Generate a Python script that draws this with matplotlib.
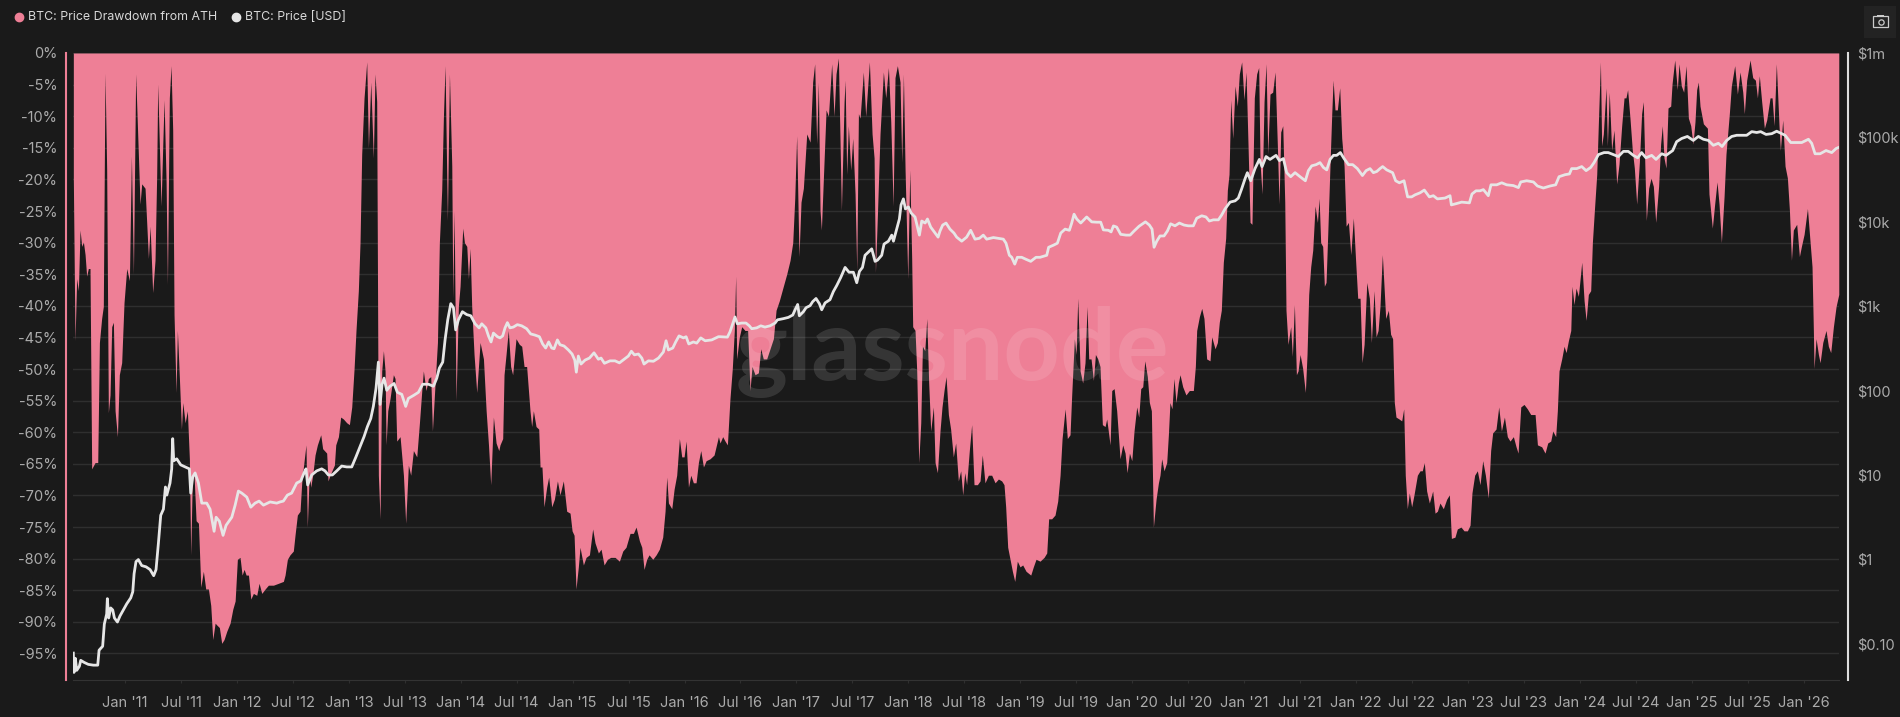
import matplotlib
matplotlib.use('Agg')
import numpy as np
import matplotlib.pyplot as plt
from matplotlib.lines import Line2D
from matplotlib.patches import FancyBboxPatch, Rectangle

# values, x is decimal year
dd_years = [
    2010.538, 2010.553, 2010.568, 2010.583, 2010.598, 2010.613, 2010.628, 2010.643, 2010.657, 2010.672, 2010.687, 2010.702,
    2010.732, 2010.756, 2010.771, 2010.791, 2010.806, 2010.821, 2010.836, 2010.851, 2010.866, 2010.881, 2010.896, 2010.911,
    2010.932, 2010.949, 2010.970, 2010.991, 2011.015, 2011.039, 2011.057, 2011.075, 2011.095, 2011.110, 2011.134, 2011.149,
    2011.179, 2011.209, 2011.224, 2011.247, 2011.268, 2011.283, 2011.292, 2011.307, 2011.322, 2011.337, 2011.349, 2011.367,
    2011.379, 2011.396, 2011.411, 2011.426, 2011.438, 2011.456, 2011.468, 2011.486, 2011.504, 2011.516, 2011.537, 2011.557,
    2011.575, 2011.587, 2011.602, 2011.617, 2011.635, 2011.656, 2011.677, 2011.700, 2011.721, 2011.745, 2011.766, 2011.784,
    2011.805, 2011.820, 2011.843, 2011.864, 2011.885, 2011.909, 2011.939, 2011.963, 2011.984, 2012.004, 2012.028, 2012.046,
    2012.064, 2012.082, 2012.103, 2012.124, 2012.147, 2012.177, 2012.198, 2012.222, 2012.252, 2012.281, 2012.326, 2012.371,
    2012.415, 2012.430, 2012.451, 2012.474, 2012.504, 2012.519, 2012.540, 2012.564, 2012.579, 2012.594, 2012.617, 2012.629,
    2012.647, 2012.659, 2012.677, 2012.698, 2012.719, 2012.749, 2012.766, 2012.802, 2012.814, 2012.832, 2012.871, 2012.883,
    2012.907, 2012.927, 2012.951, 2012.981, 2013.005, 2013.026, 2013.047, 2013.064, 2013.085, 2013.100, 2013.115, 2013.136,
    2013.160, 2013.175, 2013.196, 2013.219, 2013.234, 2013.249, 2013.264, 2013.279, 2013.294, 2013.309, 2013.324, 2013.333,
    2013.348, 2013.368, 2013.398, 2013.413, 2013.428, 2013.458, 2013.488, 2013.508, 2013.532, 2013.553, 2013.577, 2013.607,
    2013.631, 2013.652, 2013.666, 2013.690, 2013.711, 2013.732, 2013.747, 2013.771, 2013.792, 2013.809, 2013.830, 2013.845,
    2013.860, 2013.881, 2013.899, 2013.920, 2013.929, 2013.941, 2013.958, 2013.979, 2013.994, 2014.018, 2014.033, 2014.054,
    2014.069, 2014.084, 2014.098, 2014.119, 2014.143, 2014.173, 2014.203, 2014.227, 2014.248, 2014.268, 2014.292, 2014.316,
    2014.340, 2014.351, 2014.375, 2014.387, 2014.405, 2014.425, 2014.446, 2014.464, 2014.494, 2014.524, 2014.545, 2014.566,
    2014.589, 2014.619, 2014.634, 2014.649, 2014.673, 2014.697, 2014.709, 2014.726, 2014.744, 2014.768, 2014.786, 2014.813,
    2014.837, 2014.864, 2014.887, 2014.917, 2014.947, 2014.977, 2014.995, 2015.013, 2015.030, 2015.051, 2015.066, 2015.096,
    2015.120, 2015.150, 2015.179, 2015.200, 2015.230, 2015.254, 2015.281, 2015.311, 2015.340, 2015.379, 2015.418, 2015.448,
    2015.477, 2015.513, 2015.543, 2015.567, 2015.597, 2015.618, 2015.638, 2015.662, 2015.683, 2015.716, 2015.746, 2015.775,
    2015.805, 2015.826, 2015.841, 2015.856, 2015.886, 2015.907, 2015.930, 2015.954, 2015.975, 2015.996, 2016.014, 2016.035,
    2016.056, 2016.079, 2016.103, 2016.124, 2016.145, 2016.169, 2016.193, 2016.228, 2016.264, 2016.303, 2016.317, 2016.341,
    2016.362, 2016.383, 2016.406, 2016.427, 2016.445, 2016.457, 2016.466, 2016.490, 2016.511, 2016.540, 2016.564, 2016.585,
    2016.603, 2016.630, 2016.660, 2016.681, 2016.704, 2016.734, 2016.764, 2016.794, 2016.818, 2016.847, 2016.883, 2016.913,
    2016.943, 2016.967, 2016.985, 2017.002, 2017.023, 2017.041, 2017.062, 2017.092, 2017.122, 2017.145, 2017.163, 2017.181,
    2017.196, 2017.211, 2017.223, 2017.241, 2017.265, 2017.286, 2017.315, 2017.336, 2017.354, 2017.375, 2017.402, 2017.426,
    2017.435, 2017.449, 2017.464, 2017.485, 2017.503, 2017.524, 2017.539, 2017.554, 2017.569, 2017.598, 2017.619, 2017.652,
    2017.676, 2017.694, 2017.706, 2017.724, 2017.747, 2017.777, 2017.798, 2017.822, 2017.843, 2017.864, 2017.881, 2017.902,
    2017.926, 2017.941, 2017.956, 2017.971, 2017.995, 2018.013, 2018.030, 2018.039, 2018.060, 2018.075, 2018.093, 2018.111,
    2018.126, 2018.147, 2018.165, 2018.182, 2018.200, 2018.224, 2018.239, 2018.260, 2018.283, 2018.301, 2018.319, 2018.337,
    2018.358, 2018.378, 2018.402, 2018.423, 2018.447, 2018.468, 2018.486, 2018.504, 2018.521, 2018.545, 2018.566, 2018.587,
    2018.617, 2018.641, 2018.661, 2018.685, 2018.715, 2018.745, 2018.775, 2018.805, 2018.834, 2018.855, 2018.870, 2018.888,
    2018.909, 2018.930, 2018.951, 2018.974, 2018.998, 2019.022, 2019.052, 2019.094, 2019.117, 2019.141, 2019.177, 2019.213,
    2019.237, 2019.254, 2019.281, 2019.311, 2019.335, 2019.356, 2019.374, 2019.401, 2019.421, 2019.445, 2019.460, 2019.484,
    2019.499, 2019.514, 2019.535, 2019.558, 2019.579, 2019.597, 2019.612, 2019.633, 2019.654, 2019.672, 2019.693, 2019.713,
    2019.734, 2019.758, 2019.773, 2019.803, 2019.818, 2019.839, 2019.862, 2019.892, 2019.916, 2019.937, 2019.955, 2019.976,
    2019.997, 2020.017, 2020.041, 2020.059, 2020.077, 2020.095, 2020.113, 2020.136, 2020.154, 2020.172, 2020.190, 2020.214,
    2020.235, 2020.249, 2020.264, 2020.285, 2020.309, 2020.324, 2020.338, 2020.356, 2020.374, 2020.392, 2020.413, 2020.428,
    2020.452, 2020.481, 2020.511, 2020.547, 2020.565, 2020.577, 2020.601, 2020.622, 2020.642, 2020.666, 2020.696, 2020.711,
    2020.741, 2020.762, 2020.779, 2020.797, 2020.815, 2020.836, 2020.851, 2020.866, 2020.881, 2020.899, 2020.920, 2020.940,
    2020.958, 2020.979, 2021.000, 2021.018, 2021.036, 2021.054, 2021.071, 2021.092, 2021.113, 2021.131, 2021.143, 2021.161,
    2021.179, 2021.197, 2021.212, 2021.232, 2021.256, 2021.277, 2021.298, 2021.313, 2021.328, 2021.346, 2021.364, 2021.375,
    2021.393, 2021.417, 2021.432, 2021.450, 2021.468, 2021.483, 2021.501, 2021.524, 2021.548, 2021.563, 2021.578, 2021.596,
    2021.614, 2021.635, 2021.656, 2021.671, 2021.685, 2021.703, 2021.718, 2021.733, 2021.748, 2021.769, 2021.784, 2021.796,
    2021.813, 2021.834, 2021.855, 2021.873, 2021.894, 2021.912, 2021.933, 2021.954, 2021.977, 2021.998, 2022.016, 2022.037,
    2022.055, 2022.073, 2022.097, 2022.120, 2022.138, 2022.162, 2022.180, 2022.198, 2022.215, 2022.236, 2022.251, 2022.266,
    2022.290, 2022.310, 2022.328, 2022.343, 2022.358, 2022.385, 2022.409, 2022.427, 2022.441, 2022.459, 2022.477, 2022.498,
    2022.519, 2022.549, 2022.573, 2022.593, 2022.611, 2022.632, 2022.656, 2022.686, 2022.707, 2022.728, 2022.751, 2022.781,
    2022.811, 2022.835, 2022.853, 2022.885, 2022.906, 2022.939, 2022.966, 2022.996, 2023.020, 2023.037, 2023.061, 2023.085,
    2023.109, 2023.133, 2023.157, 2023.183, 2023.204, 2023.222, 2023.252, 2023.276, 2023.300, 2023.327, 2023.353, 2023.377,
    2023.407, 2023.431, 2023.449, 2023.473, 2023.502, 2023.532, 2023.562, 2023.601, 2023.622, 2023.660, 2023.690, 2023.714,
    2023.741, 2023.759, 2023.785, 2023.800, 2023.815, 2023.839, 2023.860, 2023.878, 2023.899, 2023.920, 2023.931, 2023.949,
    2023.967, 2023.988, 2024.018, 2024.039, 2024.057, 2024.077, 2024.098, 2024.113, 2024.131, 2024.152, 2024.167, 2024.185,
    2024.196, 2024.211, 2024.235, 2024.247, 2024.264, 2024.285, 2024.306, 2024.330, 2024.351, 2024.375, 2024.396, 2024.413,
    2024.428, 2024.449, 2024.470, 2024.488, 2024.509, 2024.533, 2024.553, 2024.568, 2024.583, 2024.595, 2024.616, 2024.637,
    2024.658, 2024.679, 2024.705, 2024.723, 2024.738, 2024.753, 2024.771, 2024.789, 2024.813, 2024.825, 2024.849, 2024.872,
    2024.887, 2024.908, 2024.929, 2024.950, 2024.971, 2024.992, 2025.012, 2025.030, 2025.045, 2025.060, 2025.075, 2025.105,
    2025.141, 2025.155, 2025.185, 2025.206, 2025.227, 2025.245, 2025.266, 2025.290, 2025.307, 2025.337, 2025.355, 2025.385,
    2025.409, 2025.433, 2025.457, 2025.471, 2025.492, 2025.522, 2025.546, 2025.570, 2025.588, 2025.605, 2025.626, 2025.650,
    2025.671, 2025.701, 2025.719, 2025.737, 2025.757, 2025.781, 2025.793, 2025.814, 2025.835, 2025.856, 2025.874, 2025.892,
    2025.909, 2025.939, 2025.963, 2025.981, 2026.005, 2026.035, 2026.059, 2026.076, 2026.088, 2026.094, 2026.112, 2026.133,
    2026.148, 2026.172, 2026.201, 2026.222, 2026.243, 2026.267, 2026.291, 2026.315,
]
dd_pct = [
    19.8, 45.5, 35.7, 37.6, 28.0, 30.6, 29.9, 31.9, 35.3, 34.1, 34.1, 65.8,
    64.8, 64.8, 45.8, 42.0, 40.1, 3.2, 18.5, 56.9, 54.1, 43.3, 42.6, 56.6,
    60.7, 50.9, 49.0, 39.5, 34.1, 36.0, 16.3, 35.0, 3.3, 11.2, 23.9, 20.7,
    21.4, 32.5, 27.4, 37.9, 32.8, 19.2, 4.9, 14.7, 24.2, 14.7, 7.4, 20.4,
    36.6, 7.1, 2.0, 12.2, 41.4, 53.7, 43.9, 51.5, 59.5, 55.3, 58.5, 56.6,
    64.2, 79.4, 66.8, 66.8, 74.0, 74.4, 84.5, 82.0, 84.8, 84.8, 87.4, 92.8,
    90.2, 90.5, 90.9, 93.4, 92.8, 91.5, 90.2, 88.0, 86.7, 80.1, 79.8, 82.6,
    81.7, 82.6, 82.6, 86.4, 85.5, 85.8, 83.9, 85.5, 84.8, 84.2, 84.2, 83.9,
    83.6, 82.6, 80.1, 79.4, 78.8, 76.3, 73.1, 72.5, 68.0, 65.5, 62.0, 75.0,
    66.1, 68.7, 66.8, 63.6, 62.0, 60.4, 62.6, 63.3, 67.7, 66.8, 65.2, 62.0,
    60.7, 57.6, 57.9, 58.5, 58.8, 56.0, 49.9, 43.9, 37.6, 30.0, 16.0, 7.1,
    1.4, 15.0, 4.6, 16.6, 3.3, 7.7, 66.8, 73.7, 50.3, 47.1, 50.3, 62.0,
    56.6, 54.7, 50.9, 51.5, 61.4, 60.7, 66.8, 74.4, 65.2, 66.8, 62.9, 63.9,
    58.5, 53.4, 50.3, 53.4, 51.5, 51.2, 59.8, 52.2, 45.8, 30.0, 21.7, 10.3,
    2.0, 26.5, 3.3, 17.9, 38.8, 24.9, 55.0, 40.1, 36.9, 27.7, 30.0, 30.6,
    35.7, 30.9, 40.1, 47.7, 53.7, 45.8, 48.4, 56.6, 62.0, 68.3, 57.6, 61.7,
    62.9, 62.0, 61.0, 50.9, 47.7, 43.9, 49.6, 50.9, 45.2, 46.1, 46.4, 49.6,
    49.6, 56.6, 59.1, 56.6, 59.1, 59.5, 65.5, 65.5, 71.8, 68.7, 67.1, 71.8,
    70.6, 67.7, 69.9, 67.7, 72.5, 72.8, 75.6, 76.3, 84.8, 81.3, 78.2, 81.0,
    79.8, 79.4, 75.3, 77.5, 79.1, 78.5, 81.0, 80.1, 79.8, 79.8, 80.4, 78.8,
    78.2, 76.0, 76.0, 75.0, 77.2, 78.2, 81.7, 80.1, 79.4, 80.1, 79.4, 78.5,
    76.6, 72.5, 67.1, 71.2, 72.1, 69.0, 66.8, 61.0, 63.9, 63.9, 61.4, 68.7,
    66.8, 68.0, 68.0, 64.8, 62.9, 65.5, 64.5, 64.2, 63.6, 60.7, 61.7, 60.7,
    61.4, 62.0, 54.7, 49.9, 43.9, 35.3, 48.4, 44.9, 43.3, 43.9, 43.9, 53.4,
    49.6, 50.9, 50.6, 46.8, 48.4, 48.4, 46.8, 45.2, 40.7, 39.2, 36.9, 35.0,
    32.8, 30.0, 23.0, 13.1, 32.2, 23.6, 21.4, 12.8, 14.1, 4.6, 1.7, 14.4,
    4.6, 24.9, 28.0, 19.8, 9.0, 10.0, 1.7, 10.0, 3.3, 0.8, 24.9, 7.7,
    4.3, 19.2, 11.5, 18.5, 13.5, 22.3, 34.4, 9.6, 10.3, 3.0, 10.0, 1.4,
    12.8, 16.6, 34.7, 25.5, 12.8, 3.0, 7.1, 2.3, 10.9, 24.2, 3.9, 2.0,
    4.6, 17.3, 3.3, 18.5, 35.7, 18.5, 32.5, 43.3, 43.9, 50.3, 64.8, 58.5,
    46.4, 47.1, 42.0, 52.2, 59.8, 56.0, 64.8, 66.4, 59.8, 56.0, 53.4, 51.2,
    57.2, 59.5, 63.9, 61.7, 67.7, 66.1, 69.9, 66.4, 68.3, 62.9, 58.8, 68.3,
    68.3, 67.7, 63.6, 68.0, 66.8, 66.8, 68.0, 67.4, 67.7, 68.3, 71.8, 78.2,
    80.1, 82.0, 83.6, 80.4, 81.3, 81.0, 82.0, 82.6, 81.3, 80.1, 80.4, 79.8,
    79.1, 73.7, 73.7, 73.1, 70.9, 66.8, 61.0, 56.3, 61.0, 60.4, 54.1, 45.2,
    47.7, 38.8, 50.3, 52.2, 49.0, 40.1, 48.4, 48.4, 51.8, 47.7, 48.4, 49.6,
    58.8, 59.1, 57.9, 62.0, 53.4, 53.1, 56.6, 64.2, 62.0, 63.3, 66.4, 63.3,
    64.5, 59.8, 56.0, 57.6, 53.1, 52.8, 48.7, 51.2, 55.3, 56.6, 75.0, 70.6,
    68.0, 66.8, 64.2, 66.1, 64.8, 60.4, 55.3, 56.3, 51.5, 55.3, 52.2, 50.9,
    52.8, 54.1, 53.4, 53.4, 49.6, 43.9, 41.7, 40.4, 42.0, 48.4, 48.7, 44.9,
    46.8, 45.8, 42.6, 40.7, 33.1, 29.3, 21.7, 19.2, 7.4, 13.5, 5.2, 8.4,
    3.3, 1.4, 7.4, 3.0, 14.7, 26.8, 27.1, 7.1, 3.3, 2.3, 17.3, 22.3,
    7.7, 1.7, 16.0, 6.5, 6.2, 3.0, 14.7, 23.9, 12.5, 11.5, 23.6, 40.7,
    46.1, 43.3, 48.0, 39.8, 50.9, 50.3, 47.7, 49.9, 53.7, 47.7, 38.2, 33.8,
    31.2, 24.2, 26.8, 23.0, 30.0, 30.6, 36.9, 36.3, 28.7, 17.3, 9.6, 4.3,
    9.0, 9.0, 5.5, 13.5, 17.9, 27.4, 26.8, 31.9, 26.1, 33.1, 38.8, 38.8,
    49.0, 46.1, 36.3, 38.8, 45.8, 37.6, 44.9, 43.9, 40.1, 31.9, 36.9, 42.0,
    40.7, 44.5, 45.2, 55.3, 57.6, 57.9, 58.2, 56.3, 66.8, 72.1, 69.6, 71.8,
    69.9, 66.8, 66.1, 66.1, 64.8, 69.3, 71.2, 69.3, 72.8, 72.5, 71.2, 72.1,
    70.6, 69.9, 76.8, 76.6, 75.3, 75.0, 75.6, 75.6, 74.7, 69.6, 66.8, 66.1,
    68.3, 64.5, 66.8, 70.4, 62.9, 60.1, 59.5, 56.0, 59.8, 57.6, 60.7, 61.4,
    60.7, 62.3, 63.3, 56.0, 55.6, 56.3, 57.2, 57.2, 62.0, 62.3, 63.3, 61.7,
    61.4, 59.8, 60.7, 56.6, 50.3, 48.4, 46.4, 47.4, 45.5, 43.9, 36.9, 39.8,
    37.2, 38.5, 33.1, 39.2, 42.3, 38.2, 37.6, 30.0, 24.9, 19.2, 10.9, 1.4,
    14.7, 12.8, 5.5, 14.7, 6.2, 15.4, 12.2, 20.7, 17.6, 11.5, 7.1, 7.1,
    5.8, 10.3, 15.4, 18.2, 23.9, 17.3, 9.6, 7.7, 18.5, 26.5, 21.4, 19.8,
    21.1, 26.8, 21.1, 14.4, 11.5, 16.6, 18.2, 8.7, 8.4, 4.9, 1.1, 5.8,
    1.7, 5.2, 6.2, 2.0, 10.3, 11.5, 14.4, 10.9, 5.8, 4.6, 8.4, 11.2,
    11.9, 22.3, 27.7, 23.9, 20.4, 23.9, 30.0, 22.7, 16.0, 9.6, 5.2, 2.0,
    6.5, 3.0, 6.2, 9.6, 4.3, 1.1, 3.9, 4.3, 7.1, 3.6, 7.7, 11.9,
    10.6, 7.1, 7.1, 11.5, 1.7, 11.5, 15.4, 10.6, 17.9, 19.8, 24.9, 32.8,
    28.0, 27.1, 32.2, 30.6, 28.7, 24.6, 30.0, 33.8, 43.9, 49.9, 45.2, 47.7,
    49.0, 45.8, 43.9, 46.4, 47.4, 43.3, 40.1, 38.2,
]
price_years = [
    2010.538, 2010.544, 2010.556, 2010.568, 2010.592, 2010.604, 2010.634, 2010.672, 2010.717, 2010.756, 2010.768, 2010.800,
    2010.815, 2010.836, 2010.842, 2010.854, 2010.872, 2010.890, 2010.905, 2010.932, 2010.955, 2010.985, 2011.015, 2011.051,
    2011.069, 2011.081, 2011.098, 2011.119, 2011.149, 2011.188, 2011.224, 2011.256, 2011.277, 2011.298, 2011.319, 2011.343,
    2011.361, 2011.373, 2011.402, 2011.417, 2011.426, 2011.435, 2011.462, 2011.498, 2011.537, 2011.575, 2011.587, 2011.605,
    2011.626, 2011.656, 2011.686, 2011.730, 2011.760, 2011.796, 2011.814, 2011.843, 2011.876, 2011.903, 2011.954, 2011.984,
    2012.013, 2012.043, 2012.088, 2012.124, 2012.162, 2012.198, 2012.237, 2012.296, 2012.356, 2012.385, 2012.415, 2012.451,
    2012.489, 2012.534, 2012.570, 2012.600, 2012.617, 2012.632, 2012.668, 2012.713, 2012.757, 2012.787, 2012.817, 2012.853,
    2012.892, 2012.936, 2012.981, 2013.026, 2013.064, 2013.100, 2013.136, 2013.166, 2013.196, 2013.219, 2013.243, 2013.264,
    2013.279, 2013.297, 2013.315, 2013.339, 2013.368, 2013.404, 2013.434, 2013.473, 2013.508, 2013.532, 2013.577, 2013.622,
    2013.660, 2013.711, 2013.756, 2013.786, 2013.809, 2013.839, 2013.860, 2013.884, 2013.911, 2013.935, 2013.955, 2013.979,
    2014.015, 2014.054, 2014.090, 2014.128, 2014.164, 2014.188, 2014.224, 2014.248, 2014.271, 2014.292, 2014.328, 2014.351,
    2014.375, 2014.396, 2014.417, 2014.440, 2014.470, 2014.506, 2014.545, 2014.589, 2014.625, 2014.664, 2014.703, 2014.732,
    2014.759, 2014.786, 2014.813, 2014.834, 2014.864, 2014.887, 2014.923, 2014.962, 2014.995, 2015.019, 2015.033, 2015.051,
    2015.075, 2015.111, 2015.150, 2015.191, 2015.230, 2015.254, 2015.284, 2015.334, 2015.379, 2015.418, 2015.460, 2015.498,
    2015.525, 2015.552, 2015.588, 2015.618, 2015.638, 2015.677, 2015.722, 2015.767, 2015.811, 2015.835, 2015.856, 2015.895,
    2015.921, 2015.951, 2015.990, 2016.014, 2016.038, 2016.079, 2016.109, 2016.145, 2016.184, 2016.243, 2016.303, 2016.317,
    2016.383, 2016.406, 2016.430, 2016.451, 2016.472, 2016.511, 2016.549, 2016.579, 2016.600, 2016.645, 2016.681, 2016.719,
    2016.764, 2016.809, 2016.830, 2016.883, 2016.928, 2016.967, 2016.988, 2017.011, 2017.026, 2017.062, 2017.086, 2017.122,
    2017.145, 2017.175, 2017.205, 2017.226, 2017.256, 2017.300, 2017.330, 2017.360, 2017.396, 2017.435, 2017.470, 2017.509,
    2017.539, 2017.563, 2017.590, 2017.613, 2017.643, 2017.673, 2017.703, 2017.724, 2017.762, 2017.783, 2017.822, 2017.852,
    2017.867, 2017.896, 2017.920, 2017.935, 2017.956, 2017.974, 2018.001, 2018.025, 2018.060, 2018.099, 2018.120, 2018.150,
    2018.171, 2018.200, 2018.239, 2018.266, 2018.283, 2018.307, 2018.337, 2018.372, 2018.408, 2018.432, 2018.477, 2018.521,
    2018.557, 2018.596, 2018.635, 2018.670, 2018.700, 2018.760, 2018.849, 2018.873, 2018.903, 2018.924, 2018.951, 2018.974,
    2019.013, 2019.052, 2019.094, 2019.141, 2019.177, 2019.237, 2019.254, 2019.296, 2019.332, 2019.362, 2019.401, 2019.439,
    2019.460, 2019.481, 2019.505, 2019.541, 2019.594, 2019.639, 2019.684, 2019.719, 2019.743, 2019.788, 2019.812, 2019.833,
    2019.862, 2019.898, 2019.946, 2019.982, 2020.017, 2020.062, 2020.119, 2020.154, 2020.178, 2020.196, 2020.220, 2020.249,
    2020.285, 2020.315, 2020.344, 2020.383, 2020.422, 2020.464, 2020.502, 2020.547, 2020.577, 2020.622, 2020.660, 2020.690,
    2020.726, 2020.771, 2020.800, 2020.830, 2020.875, 2020.920, 2020.949, 2020.979, 2021.009, 2021.030, 2021.060, 2021.098,
    2021.137, 2021.161, 2021.197, 2021.232, 2021.286, 2021.316, 2021.352, 2021.381, 2021.417, 2021.456, 2021.501, 2021.548,
    2021.575, 2021.605, 2021.644, 2021.679, 2021.709, 2021.739, 2021.769, 2021.799, 2021.828, 2021.861, 2021.894, 2021.933,
    2021.971, 2022.013, 2022.058, 2022.091, 2022.126, 2022.156, 2022.186, 2022.215, 2022.239, 2022.275, 2022.328, 2022.355,
    2022.388, 2022.430, 2022.462, 2022.498, 2022.528, 2022.573, 2022.611, 2022.656, 2022.692, 2022.728, 2022.796, 2022.841,
    2022.853, 2022.894, 2022.945, 2023.014, 2023.037, 2023.073, 2023.109, 2023.139, 2023.183, 2023.207, 2023.258, 2023.303,
    2023.347, 2023.407, 2023.452, 2023.473, 2023.526, 2023.586, 2023.622, 2023.675, 2023.735, 2023.785, 2023.815, 2023.869,
    2023.908, 2023.928, 2023.973, 2024.018, 2024.057, 2024.098, 2024.128, 2024.167, 2024.217, 2024.255, 2024.300, 2024.345,
    2024.390, 2024.434, 2024.479, 2024.518, 2024.553, 2024.592, 2024.643, 2024.682, 2024.732, 2024.771, 2024.831, 2024.866,
    2024.911, 2024.962, 2025.015, 2025.060, 2025.105, 2025.150, 2025.194, 2025.239, 2025.272, 2025.313, 2025.358, 2025.403,
    2025.448, 2025.492, 2025.537, 2025.582, 2025.617, 2025.665, 2025.716, 2025.760, 2025.805, 2025.835, 2025.886, 2025.939,
    2025.984, 2026.044, 2026.073, 2026.103, 2026.148, 2026.201, 2026.252, 2026.291, 2026.315,
]
price_log10_usd = [
    -1.111, -1.340, -1.173, -1.316, -1.268, -1.197, -1.221, -1.245, -1.254, -1.254, -1.077, -1.030,
    -0.767, -0.648, -0.466, -0.695, -0.576, -0.600, -0.695, -0.743, -0.671, -0.600, -0.528, -0.457,
    -0.385, -0.170, -0.027, -0.003, -0.074, -0.089, -0.122, -0.194, -0.122, 0.188, 0.522, 0.594,
    0.857, 0.761, 0.904, 1.072, 1.430, 1.167, 1.191, 1.119, 1.095, 1.072, 0.785, 0.976,
    1.024, 0.904, 0.666, 0.666, 0.594, 0.332, 0.499, 0.451, 0.284, 0.403, 0.499, 0.642,
    0.809, 0.785, 0.737, 0.618, 0.666, 0.690, 0.642, 0.680, 0.666, 0.680, 0.690, 0.761,
    0.785, 0.904, 0.928, 1.024, 1.072, 0.881, 1.000, 1.048, 1.072, 1.048, 1.000, 1.000,
    1.048, 1.105, 1.095, 1.095, 1.215, 1.334, 1.454, 1.573, 1.669, 1.812, 2.027, 2.337,
    1.836, 2.075, 2.147, 2.003, 2.051, 2.084, 1.979, 1.955, 1.812, 1.907, 1.941, 1.979,
    2.075, 2.075, 2.051, 2.147, 2.266, 2.337, 2.600, 2.838, 3.030, 2.982, 2.719, 2.838,
    2.934, 2.900, 2.886, 2.791, 2.743, 2.791, 2.743, 2.647, 2.576, 2.681, 2.638, 2.624,
    2.648, 2.743, 2.805, 2.743, 2.752, 2.781, 2.767, 2.733, 2.671, 2.657, 2.638, 2.552,
    2.504, 2.576, 2.504, 2.495, 2.600, 2.543, 2.528, 2.481, 2.433, 2.361, 2.218, 2.409,
    2.314, 2.361, 2.385, 2.447, 2.371, 2.385, 2.323, 2.352, 2.352, 2.328, 2.371, 2.409,
    2.466, 2.423, 2.433, 2.385, 2.314, 2.352, 2.347, 2.385, 2.457, 2.590, 2.481, 2.504,
    2.576, 2.648, 2.624, 2.638, 2.552, 2.576, 2.562, 2.624, 2.590, 2.600, 2.638, 2.638,
    2.633, 2.695, 2.791, 2.872, 2.791, 2.800, 2.800, 2.767, 2.733, 2.743, 2.767, 2.752,
    2.767, 2.800, 2.838, 2.852, 2.867, 2.895, 2.957, 3.020, 2.886, 2.934, 2.982, 3.006,
    3.053, 3.091, 3.030, 2.957, 3.039, 3.077, 3.173, 3.244, 3.340, 3.459, 3.402, 3.402,
    3.278, 3.412, 3.459, 3.603, 3.641, 3.679, 3.531, 3.545, 3.603, 3.736, 3.770, 3.842,
    3.770, 3.913, 4.033, 4.200, 4.271, 4.152, 4.176, 4.104, 4.056, 3.842, 4.009, 3.985,
    4.033, 3.937, 3.866, 3.818, 3.890, 3.961, 3.985, 3.913, 3.866, 3.818, 3.770, 3.818,
    3.899, 3.794, 3.804, 3.842, 3.794, 3.813, 3.794, 3.746, 3.603, 3.579, 3.498, 3.579,
    3.579, 3.555, 3.531, 3.579, 3.579, 3.603, 3.698, 3.722, 3.746, 3.866, 3.913, 3.899,
    3.985, 4.090, 4.033, 3.985, 4.057, 3.999, 3.995, 3.995, 3.904, 3.899, 3.880, 3.951,
    3.937, 3.851, 3.842, 3.842, 3.890, 3.947, 3.999, 3.961, 3.913, 3.698, 3.770, 3.832,
    3.832, 3.890, 3.976, 3.952, 3.985, 3.961, 3.952, 3.952, 4.042, 4.071, 4.057, 4.009,
    4.023, 4.023, 4.080, 4.152, 4.233, 4.248, 4.281, 4.391, 4.510, 4.582, 4.486, 4.630,
    4.739, 4.653, 4.773, 4.739, 4.787, 4.725, 4.749, 4.582, 4.534, 4.582, 4.534, 4.486,
    4.606, 4.663, 4.677, 4.701, 4.644, 4.615, 4.739, 4.787, 4.787, 4.820, 4.749, 4.677,
    4.677, 4.630, 4.548, 4.606, 4.630, 4.582, 4.596, 4.630, 4.654, 4.615, 4.582, 4.486,
    4.462, 4.486, 4.295, 4.295, 4.319, 4.343, 4.376, 4.295, 4.309, 4.271, 4.281, 4.309,
    4.200, 4.214, 4.233, 4.224, 4.329, 4.367, 4.367, 4.381, 4.309, 4.438, 4.438, 4.462,
    4.438, 4.429, 4.405, 4.472, 4.486, 4.472, 4.424, 4.400, 4.424, 4.438, 4.534, 4.558,
    4.567, 4.630, 4.630, 4.654, 4.606, 4.644, 4.701, 4.796, 4.820, 4.820, 4.796, 4.773,
    4.834, 4.834, 4.787, 4.758, 4.820, 4.758, 4.787, 4.739, 4.806, 4.787, 4.844, 4.949,
    4.987, 5.011, 4.964, 5.011, 4.978, 4.964, 4.906, 4.930, 4.892, 4.964, 5.011, 5.025,
    5.025, 5.025, 5.068, 5.058, 5.068, 5.035, 5.044, 5.073, 5.044, 5.025, 4.939, 4.939,
    4.939, 4.978, 4.930, 4.806, 4.806, 4.844, 4.820, 4.868, 4.882,
]
dd_ticks = list(range(0, -100, -5))
price_ticks = [1e6, 1e5, 1e4, 1e3, 1e2, 10, 1, 0.1]
price_labels = ['$1m', '$100k', '$10k', '$1k', '$100', '$10', '$1', '$0.10']
date_ticks = [y + m for y in range(2011, 2027) for m in (0, 0.5)][:-1]
date_labels = [f"{'Jan' if t % 1 == 0 else 'Jul'} '{int(t) % 100}" for t in date_ticks]

BG = '#1a1a1a'
PINK = '#ee7f96'
WHITE = '#e6e6e6'
GRID = '#2f2f2f'
TEXT = '#ababab'
FONT = ['Inter', 'DejaVu Sans']

plt.rcParams['font.family'] = FONT
W, H = 1900, 717
fig = plt.figure(figsize=(W / 100, H / 100), dpi=100, facecolor=BG)
ax = fig.add_axes([73 / W, 1 - 680 / H, (1839 - 73) / W, (680 - 53) / H], facecolor=BG)
ax2 = ax.twinx()
ax.set_zorder(1)
ax2.set_zorder(2)
ax2.patch.set_visible(False)

n = min(len(dd_years), len(dd_pct))
x = np.array(dd_years[:n])
y = -np.array(dd_pct[:n])
ax.fill_between(x, 0, y, color=PINK, lw=0, zorder=3)
ax.set_xlim(2010.535, 2026.317)
ax.set_ylim(-99.2, 0)
ax.set_yticks(dd_ticks)
ax.set_yticklabels(['0%'] + [f'{t}%' for t in dd_ticks[1:]])
ax.set_xticks(date_ticks)
ax.set_xticklabels(date_labels)
ax.grid(axis='y', color=GRID, lw=1, zorder=1)
ax.tick_params(axis='y', length=0, labelsize=10.5, labelcolor=TEXT, pad=6)
ax.tick_params(axis='x', length=2.5, width=0.8, color=GRID, labelsize=10.5, labelcolor=TEXT, pad=9)
for s in ['top', 'right']:
    ax.spines[s].set_visible(False)
ax.spines['bottom'].set_color('#333333')
ax.spines['left'].set_color(PINK)
ax.spines['left'].set_linewidth(1.5)
ax.spines['left'].set_position(('outward', 5.4))

m = min(len(price_years), len(price_log10_usd))
ax2.plot(price_years[:m], 10 ** np.array(price_log10_usd[:m]), color=WHITE, lw=2.0, zorder=5)
ax2.set_yscale('log')
ax2.set_ylim(10 ** -1.43, 1e6)
ax2.set_yticks(price_ticks)
ax2.set_yticklabels(price_labels)
ax2.minorticks_off()
ax2.tick_params(axis='y', length=0, labelsize=10.5, labelcolor=TEXT, pad=6)
for s in ['top', 'left', 'bottom']:
    ax2.spines[s].set_visible(False)
ax2.spines['right'].set_color('#dddddd')
ax2.spines['right'].set_linewidth(1.5)
ax2.spines['right'].set_position(('outward', 6.8))

# watermark over the area
fig.text(952 / W, 1 - 352 / H, 'glassnode', color='white', alpha=0.12, fontsize=71, family=['Lato', 'DejaVu Sans'],
         fontweight='bold', ha='center', va='center', zorder=10)

# legend row
fig.add_artist(Line2D([19 / W], [1 - 16.5 / H], marker='o', ms=6, color=PINK, transform=fig.transFigure))
fig.text(28 / W, 1 - 16.5 / H, 'BTC: Price Drawdown from ATH', color='#d8d8d8', fontsize=8.9, va='center')
fig.add_artist(Line2D([236 / W], [1 - 16.5 / H], marker='o', ms=6, color=WHITE, transform=fig.transFigure))
fig.text(245 / W, 1 - 16.5 / H, 'BTC: Price [USD]', color='#d8d8d8', fontsize=8.9, va='center')

# camera button
fig.add_artist(FancyBboxPatch((1864 / W, 1 - 38 / H), 32 / W, 32 / H, boxstyle='round,pad=0', fc='#232323', ec='none',
                              transform=fig.transFigure))
fig.add_artist(Rectangle((1873 / W, 1 - 27 / H), 15 / W, 11 / H, fc='none', ec='#cccccc', lw=0.9, transform=fig.transFigure))
fig.add_artist(Rectangle((1877 / W, 1 - 17 / H), 7 / W, 2 / H, fc='#cccccc', ec='none', transform=fig.transFigure))
fig.add_artist(Line2D([1880.5 / W], [1 - 21.5 / H], marker='o', ms=3.8, mfc='none', mec='#cccccc', mew=0.9,
                      transform=fig.transFigure))

fig.savefig('out.png', dpi=100, facecolor=BG)
